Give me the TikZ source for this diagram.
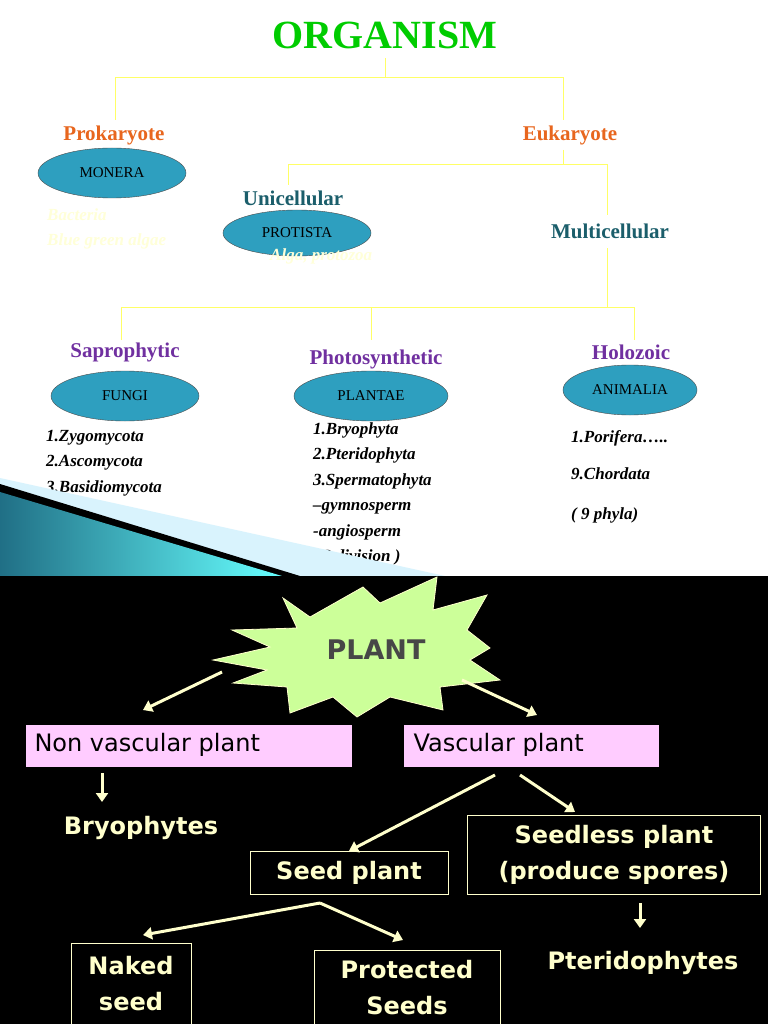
\documentclass[tikz,border=0pt]{standalone}
\usepackage{fontspec}
\setmainfont{Liberation Serif}
\newfontfamily\vsans{DejaVu Sans}
\usetikzlibrary{arrows.meta}
\definecolor{ylw}{HTML}{FFFF66}
\definecolor{cream}{HTML}{FFFFCC}
\definecolor{teal1}{HTML}{2E9FBF}
\definecolor{orng}{HTML}{E8661E}
\definecolor{dteal}{HTML}{1B5E6B}
\definecolor{purp}{HTML}{7030A0}
\definecolor{pale}{HTML}{FFFFD8}
\definecolor{pinkb}{HTML}{FFCCFF}
\definecolor{starg}{HTML}{CCFF99}
\begin{document}
\begin{tikzpicture}[x=1pt,y=-1pt,
  tline/.style={ylw,line width=1pt},
  head/.style={font=\fontsize{21}{24}\selectfont\bfseries},
  ell/.style={ellipse,draw=black!70,fill=teal1,font=\fontsize{15}{17}\selectfont,inner sep=0pt},
  lst/.style={font=\fontsize{17}{25.5}\selectfont\bfseries\itshape,align=left,anchor=north west,inner sep=0pt},
  pale/.style={font=\fontsize{17}{25}\selectfont\bfseries\itshape,text=pale,align=left,anchor=north west,inner sep=0pt},
  pbox/.style={draw=black,fill=pinkb,font=\vsans\fontsize{24}{28}\selectfont,anchor=north west,inner sep=0pt},
  kbox/.style={draw=cream,line width=1pt,fill=black,text=cream,font=\vsans\bfseries\fontsize{24}{36}\selectfont,align=center,inner sep=0pt},
  ctext/.style={text=cream,font=\vsans\bfseries\fontsize{24}{28}\selectfont},
  arr/.style={cream,line width=3pt,-{Triangle[length=9pt,width=12pt]}}]
\usetikzlibrary{shapes.geometric}
\useasboundingbox (0,0) rectangle (768,1024);
\fill[white] (0,0) rectangle (768,576);
% title
\node (org) at (385,35) {\textcolor{green!80!black}{\fontsize{40}{44}\selectfont\bfseries ORGANISM}};
\coordinate (o1) at (385,58); \coordinate (o2) at (385,78);
\draw[tline] (o1) -- (o2);
\draw[tline] (115,120) -- (115,78) -- (563,78) -- (563,120);
\node[head,text=orng] (pro) at (114,135) {Prokaryote};
\node[head,text=orng] (euk) at (570,135) {Eukaryote};
\draw[tline] (563,150) -- (563,165);
\draw[tline] (288,185) -- (288,165) -- (607,165) -- (607,215);
\node[ell,minimum width=148pt,minimum height=50pt] (mon) at (112,173) {MONERA};
\node[pale] (bac) at (47,209) {Bacteria\\Blue green algae};
\node[head,text=dteal] (uni) at (293,198) {Unicellular};
\node[ell,minimum width=148pt,minimum height=46pt] (prot) at (297,233) {PROTISTA};
\node[pale] (alg) at (270,249) {Alga, protozoa};
\node[head,text=dteal] (mul) at (610,231) {Multicellular};
\draw[tline] (607,248) -- (607,307);
\draw[tline] (121,340) -- (121,307) -- (634,307) -- (634,340);
\draw[tline] (371,307) -- (371,340);
\node[head,text=purp] (sap) at (125,352) {Saprophytic};
\node[head,text=purp] (pho) at (376,359) {Photosynthetic};
\node[head,text=purp] (hol) at (631,352) {Holozoic};
\node[ell,minimum width=148pt,minimum height=50pt] (fun) at (125,396) {FUNGI};
\node[ell,minimum width=154pt,minimum height=50pt] (pla) at (371,396) {PLANTAE};
\node[ell,minimum width=134pt,minimum height=50pt] (ani) at (630,390) {ANIMALIA};
\node[lst] (fl) at (46,430) {1.Zygomycota\\2.Ascomycota\\3.Basidiomycota\\( 3 phyla )};
\node[lst] (pl) at (313,422) {1.Bryophyta\\2.Pteridophyta\\3.Spermatophyta\\--gymnosperm\\-angiosperm\\( 3 division )};
\node[lst] (al1) at (571,430) {1.Porifera\ldots..};
\node[lst] (al2) at (571,468) {9.Chordata};
\node[lst] (al3) at (571,508) {( 9 phyla)};
% decorative wedge
\fill[cyan!15] (0,478) -- (445,576) -- (0,576) -- cycle;
\fill[black] (0,484) -- (300,576) -- (0,576) -- cycle;
\shade[left color=teal1!70!black,right color=cyan!60] (0,492) -- (282,576) -- (0,576) -- cycle;
% bottom
\fill[black] (0,576) rectangle (768,1024);
\draw[fill=starg,draw=cream,line width=0.8pt] (283,598) -- (310,617) -- (363,587) -- (380,603) -- (437,577) -- (433,610) -- (487,595) -- (467,630) -- (490,648) -- (470,660) -- (500,680) -- (440,687) -- (443,710) -- (390,697) -- (357,717) -- (333,697) -- (290,713) -- (287,687) -- (233,683) -- (267,670) -- (213,660) -- (270,647) -- (232,630) -- (297,628) -- cycle;
\node (plant) at (376,650) {\textcolor{black!72}{\vsans\bfseries\fontsize{27}{30}\selectfont PLANT}};
\node[pbox,minimum width=327pt,minimum height=43pt] (nv) at (25,724) {};
\node[font=\vsans\fontsize{24}{28}\selectfont,anchor=west] at (31,745) {Non vascular plant};
\node[pbox,minimum width=256pt,minimum height=43pt] (va) at (403,724) {};
\node[font=\vsans\fontsize{24}{28}\selectfont,anchor=west] at (410,745) {Vascular plant};
\coordinate (s1) at (222,672); \coordinate (e1) at (143,710);
\coordinate (s2) at (462,680); \coordinate (e2) at (537,715);
\draw[arr] (s1) -- (e1);
\draw[arr] (s2) -- (e2);
\node[ctext] (bry) at (141,828) {Bryophytes};
\draw[arr] (102,773) -- (102,802);
\node[kbox,minimum width=198pt,minimum height=43pt] (seed) at (349,873) {Seed plant};
\node[kbox,minimum width=293pt,minimum height=79pt] (sl) at (614,855) {Seedless plant\\(produce spores)};
\coordinate (v1) at (495,775); \coordinate (v2) at (520,775);
\draw[arr] (v1) -- (seed.north);
\draw[arr] (v2) -- (575,812);
\coordinate (sd) at (320,903);
\draw[arr] (sd) -- (143,935);
\draw[arr] (sd) -- (403,940);
\draw[arr] (640,903) -- (640,928);
\node[ctext] (pte) at (643,963) {Pteridophytes};
\node[kbox,minimum width=120pt,minimum height=82pt] (nk) at (131,984) {Naked\\seed};
\node[kbox,minimum width=186pt,minimum height=76pt] (ps) at (407,988) {Protected\\Seeds};
\end{tikzpicture}
\end{document}
